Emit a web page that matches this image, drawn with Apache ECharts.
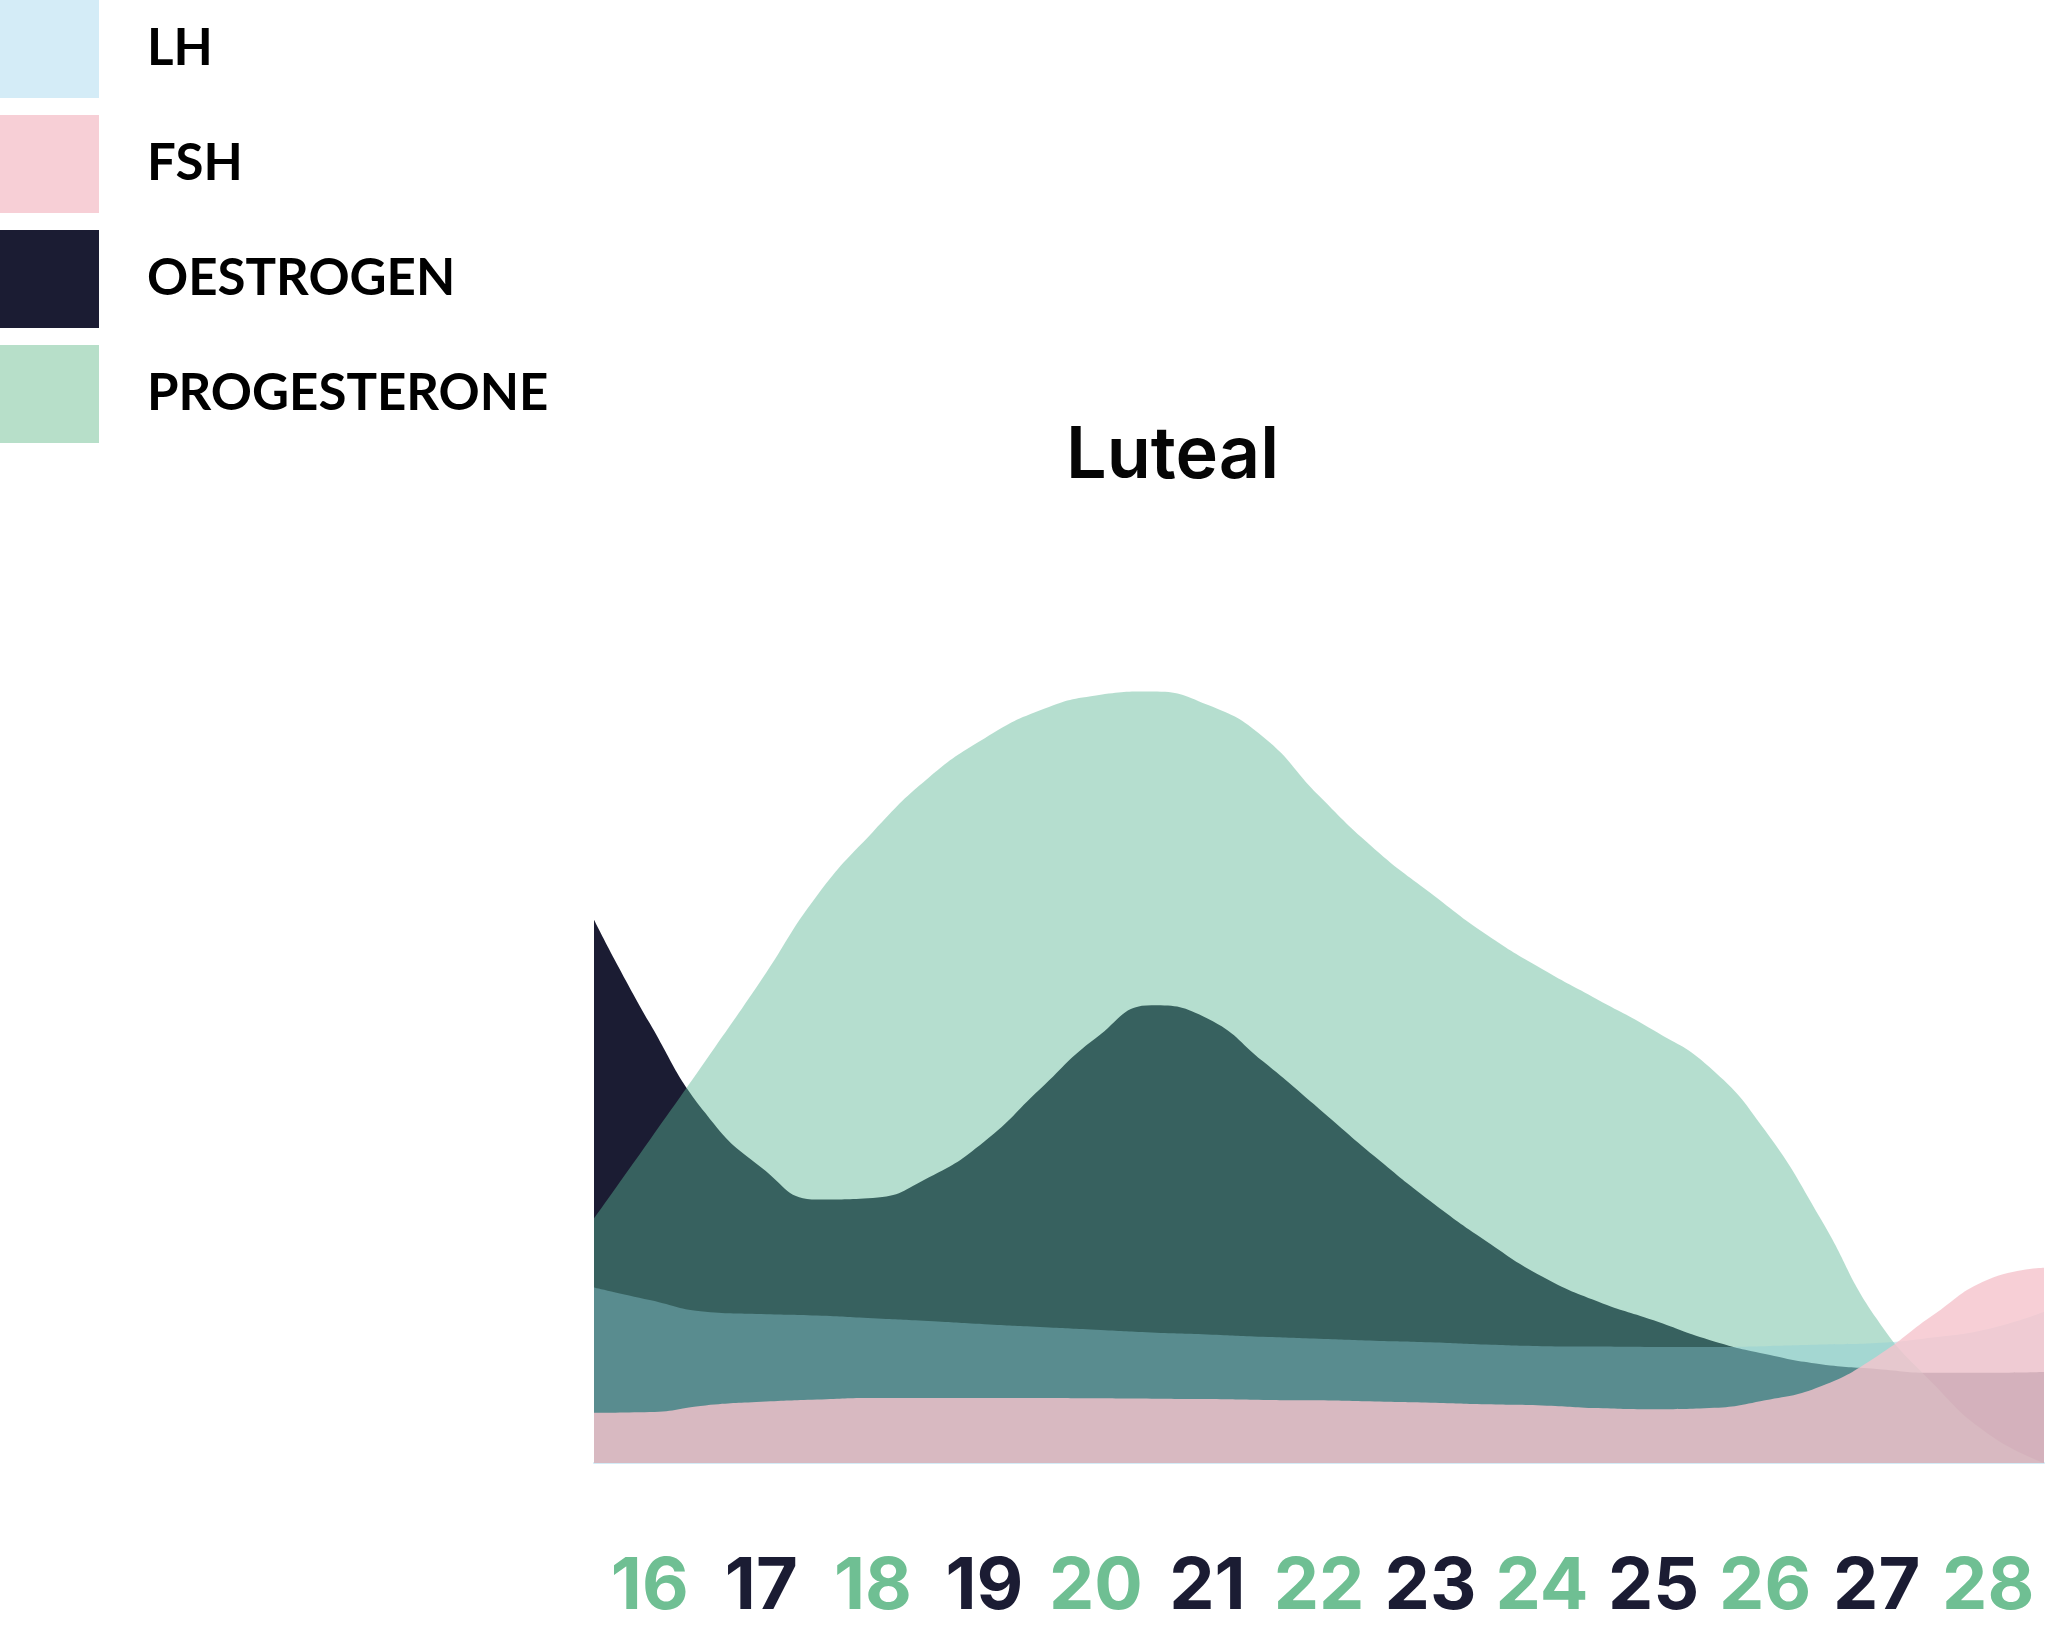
<!DOCTYPE html>
<html>
<head>
<meta charset="utf-8">
<script src="https://cdn.jsdelivr.net/npm/echarts@6/dist/echarts.min.js"></script>
<style>
  html, body { margin: 0; padding: 0; background: #fff; }
  #chart { width: 2048px; height: 1633px; }
</style>
</head>
<body>
<div id="chart"></div>
<script>
// day labels on the x axis, alternating colours
const days = ['16', '17', '18', '19', '20', '21', '22', '23', '24', '25', '26', '27', '28'];
const labelColors = ['#6fbf93', '#1b1c33'];

// sample positions (half days, from the left edge to the right edge of the plot)
const sampleDays = [15.5, 16, 16.5, 17, 17.5, 18, 18.5, 19, 19.5, 20, 20.5, 21, 21.5, 22, 22.5,
    23, 23.5, 24, 24.5, 25, 25.5, 26, 26.5, 27, 27.5, 28, 28.5];

// hormone levels at those days
const oestrogen = [69.3, 56.1, 44.6, 37.7, 33.6, 33.8, 36.4, 41.0, 47.7, 54.2, 58.4, 56.7, 51.2, 45.2, 39.1,
    33.4, 28.3, 23.8, 20.6, 18.2, 15.7, 13.9, 12.6, 12.0, 11.5, 11.5, 11.6];
const progesterone = [31.2, 41.2, 51.3, 61.6, 72.4, 80.5, 87.4, 92.4, 96.0, 97.9, 98.4, 96.7, 92.6, 85.1, 78.3,
    72.7, 67.4, 63.0, 59.1, 55.2, 50.5, 42.4, 31.1, 18.4, 10.2, 3.7, 0];
const lh = [22.4, 20.8, 19.3, 19.0, 18.8, 18.45, 18.1, 17.7, 17.35, 17.0, 16.65, 16.4, 16.1, 15.85, 15.6,
    15.4, 15.1, 14.9, 14.85, 14.8, 14.8, 14.9, 15.1, 15.3, 16.0, 17.1, 19.3];
const fsh = [6.4, 6.5, 7.35, 7.8, 8.1, 8.3, 8.3, 8.3, 8.3, 8.25, 8.2, 8.15, 8.05, 8.0, 7.85,
    7.7, 7.5, 7.35, 7.0, 6.85, 7.0, 8.0, 9.8, 13.6, 18.8, 23.4, 24.9];

var myChart = echarts.init(document.getElementById('chart'));

function area(name, values, color, opacity) {
    return {
        name: name,
        type: 'line',
        xAxisIndex: 0,
        data: values.map(function (v, i) { return [sampleDays[i], v]; }),
        smooth: 0.5,
        symbol: 'none',
        lineStyle: { width: 0, opacity: 0 },
        itemStyle: { color: color },
        areaStyle: { color: color, opacity: opacity },
        emphasis: { disabled: true },
        silent: true
    };
}

var option = {
    animation: false,
    backgroundColor: '#fff',
    title: {
        text: 'Luteal',
        left: 1066,
        top: 420,
        padding: 0,
        textStyle: { fontFamily: 'Inter', fontSize: 72, fontWeight: 600, color: '#050505' }
    },
    legend: {
        orient: 'vertical',
        left: 0,
        top: 0,
        padding: 0,
        itemWidth: 99,
        itemHeight: 98,
        itemGap: 17,
        icon: 'rect',
        selectedMode: false,
        textStyle: { fontFamily: 'Lato', fontSize: 51, fontWeight: 700, color: '#000', padding: [0, 0, 0, 43] },
        data: [
            { name: 'LH', itemStyle: { color: '#d4ecf7' } },
            { name: 'FSH', itemStyle: { color: '#f7cfd6' } },
            { name: 'OESTROGEN', itemStyle: { color: '#1b1c33' } },
            { name: 'PROGESTERONE', itemStyle: { color: '#b7dfc9' } }
        ]
    },
    grid: { left: 594, right: 4, top: 679, bottom: 170 },
    xAxis: [
        {
            type: 'value',
            min: 15.5,
            max: 28.5,
            axisLine: { show: true, lineStyle: { color: '#d4ecf7', width: 2 } },
            axisTick: { show: false },
            axisLabel: { show: false },
            splitLine: { show: false }
        },
        {
            type: 'category',
            data: days,
            boundaryGap: true,
            position: 'bottom',
            axisLine: { show: false },
            axisTick: { show: false },
            splitLine: { show: false },
            axisLabel: {
                margin: 88,
                interval: 0,
                formatter: function (v, i) {
                    return '{c' + (i % 2) + '|' + v + '}';
                },
                rich: {
                    c0: { color: labelColors[0], fontFamily: 'Inter', fontSize: 72, fontWeight: 700 },
                    c1: { color: labelColors[1], fontFamily: 'Inter', fontSize: 72, fontWeight: 700 }
                }
            }
        }
    ],
    yAxis: { type: 'value', min: 0, max: 100, show: false },
    series: [
        area('OESTROGEN', oestrogen, '#1b1c33', 1),
        area('PROGESTERONE', progesterone, '#5cb694', 0.45),
        area('LH', lh, '#8ccdd7', 0.4),
        area('FSH', fsh, '#f5c4cc', 0.81)
    ]
};

myChart.setOption(option);
</script>
</body>
</html>
